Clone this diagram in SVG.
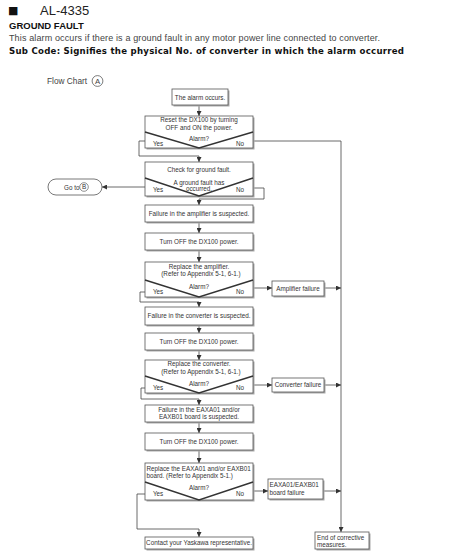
<svg xmlns="http://www.w3.org/2000/svg" width="474" height="556" viewBox="0 0 474 556">
<defs>
<style>
text{font-family:"Liberation Sans",Arial,sans-serif;fill:#333}
.b{font-size:6.3px}
.c{text-anchor:middle}
.box{fill:#fff;stroke:#555;stroke-width:0.8}
.sh{fill:#aaa}
.v{fill:none;stroke:#333;stroke-width:1.4}
.ln{fill:none;stroke:#444;stroke-width:0.8}
</style>
<marker id="ah" viewBox="0 0 6 6" refX="6" refY="3" markerWidth="5" markerHeight="5" orient="auto" markerUnits="userSpaceOnUse">
<path d="M0,0 L6,3 L0,6 z" fill="#333"/>
</marker>
</defs>
<rect width="474" height="556" fill="#fff"/>

<g id="header">
<text x="8" y="13.5" style="font-size:11px;fill:#111;font-family:'DejaVu Sans',sans-serif">■</text>
<text x="40" y="14.5" style="font-size:13px;fill:#222">AL-4335</text>
<text x="9" y="29" style="font-size:9.5px;font-weight:bold;fill:#111">GROUND FAULT</text>
<text x="9" y="41" style="font-size:9px;fill:#444" textLength="371">This alarm occurs if there is a ground fault in any motor power line connected to converter.</text>
<text x="9" y="53.5" style="font-size:8.6px;font-weight:bold;fill:#111;font-family:'DejaVu Sans',Verdana,sans-serif" textLength="395">Sub Code: Signifies the physical No. of converter in which the alarm occurred</text>
<text x="47" y="84" style="font-size:8.3px;fill:#444">Flow Chart</text>
<circle cx="97.5" cy="81" r="5.4" fill="none" stroke="#444" stroke-width="0.7"/>
<text x="97.5" y="84" class="c" style="font-size:7.8px;fill:#444">A</text>
</g>

<g id="connectors">
<line class="ln" x1="199" y1="105" x2="199" y2="116" marker-end="url(#ah)"/>
<polyline class="ln" points="145,141 139,141 139,156 199,156 199,162" marker-end="url(#ah)"/>
<polyline class="ln" points="253,141 341,141 341,532" marker-end="url(#ah)"/>
<line class="ln" x1="145" y1="187" x2="102" y2="187" marker-end="url(#ah)"/>
<polyline class="ln" points="253,188 264,188 264,199 199,199 199,205" marker-end="url(#ah)"/>
<line class="ln" x1="199" y1="222" x2="199" y2="233" marker-end="url(#ah)"/>
<line class="ln" x1="199" y1="250" x2="199" y2="262" marker-end="url(#ah)"/>
<line class="ln" x1="253" y1="288" x2="272" y2="288" marker-end="url(#ah)"/>
<line class="ln" x1="324" y1="288" x2="341" y2="288" marker-end="url(#ah)"/>
<polyline class="ln" points="145,292 140,292 140,302 199,302 199,307" marker-end="url(#ah)"/>
<line class="ln" x1="199" y1="325" x2="199" y2="333" marker-end="url(#ah)"/>
<line class="ln" x1="199" y1="350" x2="199" y2="360" marker-end="url(#ah)"/>
<line class="ln" x1="253" y1="385" x2="272" y2="385" marker-end="url(#ah)"/>
<line class="ln" x1="324" y1="385" x2="341" y2="385" marker-end="url(#ah)"/>
<polyline class="ln" points="145,388 141,388 141,399 199,399 199,405" marker-end="url(#ah)"/>
<line class="ln" x1="199" y1="422" x2="199" y2="433" marker-end="url(#ah)"/>
<line class="ln" x1="199" y1="450" x2="199" y2="463" marker-end="url(#ah)"/>
<line class="ln" x1="253" y1="491" x2="268" y2="491" marker-end="url(#ah)"/>
<line class="ln" x1="323" y1="491" x2="341" y2="491" marker-end="url(#ah)"/>
<polyline class="ln" points="145,494 137,494 137,529 199,529 199,537" marker-end="url(#ah)"/>
</g>

<g id="n-alarm">
<rect class="sh" x="173.5" y="90.5" width="56" height="16"/>
<rect class="box" x="172" y="89" width="56" height="16"/>
<text class="b c" x="200" y="99.5">The alarm occurs.</text>
</g>

<g id="n-reset">
<rect class="sh" x="146.5" y="117.5" width="108" height="32"/>
<rect class="box" x="145" y="116" width="108" height="32"/>
<polyline class="v" points="145,132 199,148 253,132"/>
<text class="b c" x="199" y="122">Reset the DX100 by turning</text>
<text class="b c" x="199" y="129.5">OFF and ON the power.</text>
<text class="b c" x="199" y="140.5">Alarm?</text>
<text class="b" x="153" y="145.5">Yes</text>
<text class="b" x="236" y="145.5">No</text>
</g>

<g id="n-check">
<rect class="sh" x="146.5" y="163.5" width="108" height="34"/>
<rect class="box" x="145" y="162" width="108" height="34"/>
<polyline class="v" points="145,178 199,196 253,178"/>
<text class="b c" x="199" y="172">Check for ground fault.</text>
<text class="b c" x="199" y="184.5">A ground fault has</text>
<text class="b c" x="199" y="191">occurred.</text>
<text class="b" x="153" y="192">Yes</text>
<text class="b" x="236" y="192">No</text>
</g>

<g id="n-gotoB">
<rect class="box" x="48" y="179" width="54" height="16" rx="8"/>
<text class="b" x="64" y="189.5">Go to</text>
<circle cx="84" cy="187" r="4.3" fill="none" stroke="#444" stroke-width="0.6"/>
<text class="b c" x="84" y="189.3">B</text>
</g>

<g id="n-amp-susp">
<rect class="sh" x="146.5" y="206.5" width="108" height="17"/>
<rect class="box" x="145" y="205" width="108" height="17"/>
<text class="b c" x="199" y="215.8">Failure in the amplifier is suspected.</text>
</g>

<g id="n-off1">
<rect class="sh" x="146.5" y="234.5" width="108" height="17"/>
<rect class="box" x="145" y="233" width="108" height="17"/>
<text class="b c" x="199" y="243.8">Turn OFF the DX100 power.</text>
</g>

<g id="n-rep-amp">
<rect class="sh" x="146.5" y="263.5" width="108" height="35"/>
<rect class="box" x="145" y="262" width="108" height="35"/>
<polyline class="v" points="145,280 199,297 253,280"/>
<text class="b c" x="199" y="268.5">Replace the amplifier.</text>
<text class="b c" x="201" y="276">(Refer to Appendix 5-1, 6-1.)</text>
<text class="b c" x="199" y="288.5">Alarm?</text>
<text class="b" x="153" y="294">Yes</text>
<text class="b" x="236" y="294">No</text>
</g>

<g id="n-amp-fail">
<rect class="sh" x="273.5" y="282.5" width="52" height="15"/>
<rect class="box" x="272" y="281" width="52" height="15"/>
<text class="b c" x="298" y="290.8">Amplifier failure</text>
</g>

<g id="n-conv-susp">
<rect class="sh" x="146.5" y="308.5" width="108" height="18"/>
<rect class="box" x="145" y="307" width="108" height="18"/>
<text class="b c" x="199" y="318.3">Failure in the converter is suspected.</text>
</g>

<g id="n-off2">
<rect class="sh" x="146.5" y="334.5" width="108" height="17"/>
<rect class="box" x="145" y="333" width="108" height="17"/>
<text class="b c" x="199" y="343.8">Turn OFF the DX100 power.</text>
</g>

<g id="n-rep-conv">
<rect class="sh" x="146.5" y="361.5" width="108" height="33"/>
<rect class="box" x="145" y="360" width="108" height="33"/>
<polyline class="v" points="145,376 199,393 253,376"/>
<text class="b c" x="199" y="366.3">Replace the converter.</text>
<text class="b c" x="201" y="373.5">(Refer to Appendix 5-1, 6-1.)</text>
<text class="b c" x="199" y="385.5">Alarm?</text>
<text class="b" x="153" y="390">Yes</text>
<text class="b" x="236" y="390">No</text>
</g>

<g id="n-conv-fail">
<rect class="sh" x="273.5" y="379.5" width="52" height="14"/>
<rect class="box" x="272" y="378" width="52" height="14"/>
<text class="b c" x="298" y="387.3">Converter failure</text>
</g>

<g id="n-board-susp">
<rect class="sh" x="146.5" y="406.5" width="108" height="17"/>
<rect class="box" x="145" y="405" width="108" height="17"/>
<text class="b c" x="199" y="411.5">Failure in the EAXA01 and/or</text>
<text class="b c" x="199" y="419">EAXB01 board is suspected.</text>
</g>

<g id="n-off3">
<rect class="sh" x="146.5" y="434.5" width="108" height="17"/>
<rect class="box" x="145" y="433" width="108" height="17"/>
<text class="b c" x="199" y="443.8">Turn OFF the DX100 power.</text>
</g>

<g id="n-rep-board">
<rect class="sh" x="146.5" y="464.5" width="108" height="37"/>
<rect class="box" x="145" y="463" width="108" height="37"/>
<polyline class="v" points="145,482 199,500 253,482"/>
<text class="b" x="146.5" y="470.5">Replace the EAXA01 and/or EAXB01</text>
<text class="b" x="146.5" y="477.5">board.  (Refer to Appendix 5-1.)</text>
<text class="b c" x="199" y="490">Alarm?</text>
<text class="b" x="153" y="495.5">Yes</text>
<text class="b" x="236" y="495.5">No</text>
</g>

<g id="n-board-fail">
<rect class="sh" x="269.5" y="480.5" width="55" height="20"/>
<rect class="box" x="268" y="479" width="55" height="20"/>
<text class="b" x="269.5" y="487">EAXA01/EAXB01</text>
<text class="b" x="269.5" y="495">board failure</text>
</g>

<g id="n-contact">
<rect class="sh" x="146.5" y="538.5" width="108" height="12"/>
<rect class="box" x="145" y="537" width="108" height="12"/>
<text class="b c" x="199" y="545.3">Contact your Yaskawa representative.</text>
</g>

<g id="n-end">
<rect class="sh" x="316.5" y="533.5" width="54" height="17"/>
<rect class="box" x="315" y="532" width="54" height="17"/>
<text class="b" x="317" y="539.5">End of corrective</text>
<text class="b" x="317" y="547">measures.</text>
</g>
</svg>
